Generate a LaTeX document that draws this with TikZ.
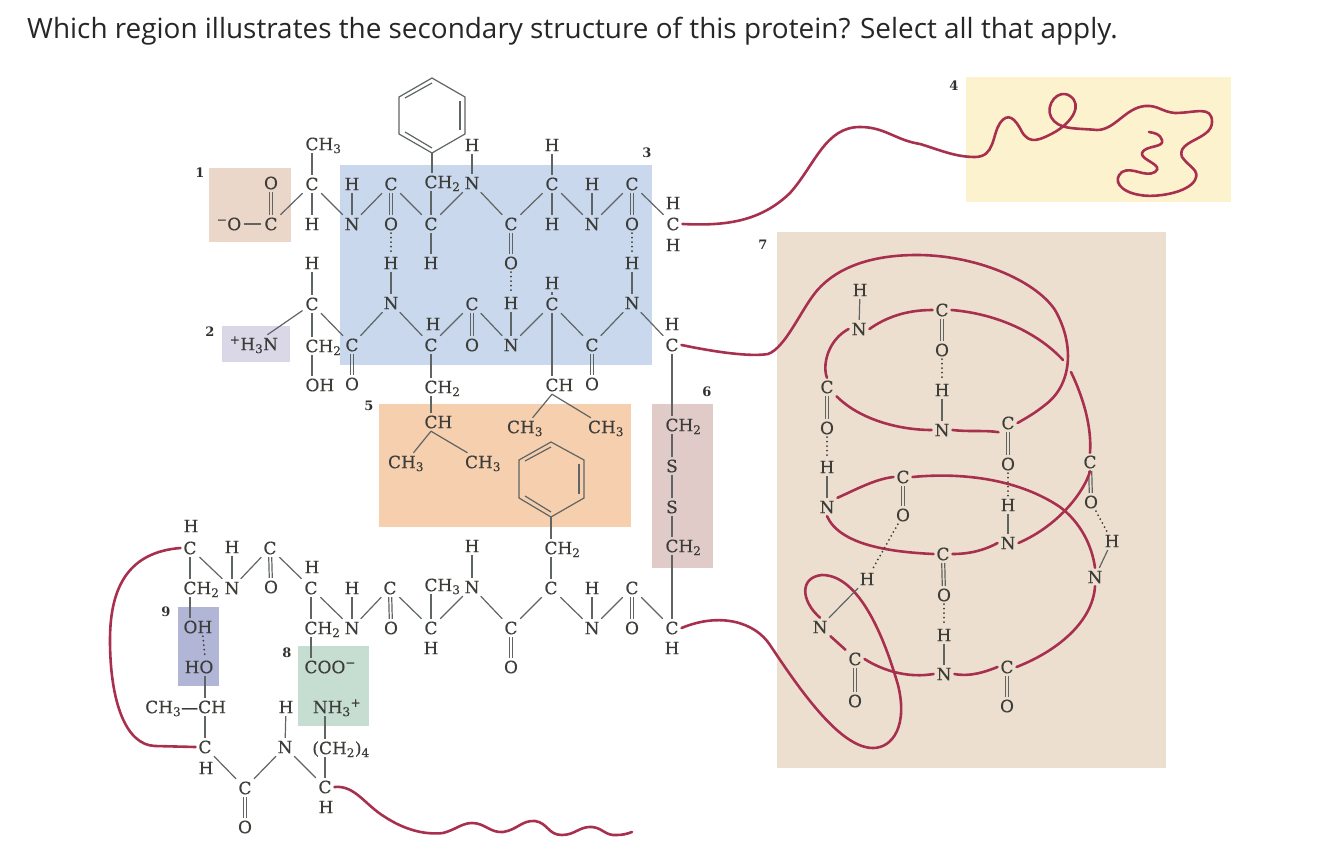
\documentclass[tikz,border=0pt]{standalone}
\usepackage{fontspec}
\setmainfont{DejaVu Serif}
\newfontfamily\atomfont[FakeBold=0.35]{DejaVu Serif}
\newfontfamily\titlefont{Open Sans}
\definecolor{ink}{HTML}{3C3C38}
\definecolor{bondc}{HTML}{5F6464}
\definecolor{chainc}{HTML}{A8304F}
\definecolor{pPeach}{HTML}{EBD6CA}
\definecolor{pLav}{HTML}{DAD7E7}
\definecolor{pBlue}{HTML}{C9D8EC}
\definecolor{pOrange}{HTML}{F6CFAE}
\definecolor{pMauve}{HTML}{E0CBC9}
\definecolor{pViolet}{HTML}{B1B6D7}
\definecolor{pGreen}{HTML}{C6DDD2}
\definecolor{pYellow}{HTML}{FCF3CE}
\definecolor{pBeige}{HTML}{EDDFD0}
\tikzset{
  atom/.style={inner sep=3pt,outer sep=0pt,text=ink,text height=12.4pt,text depth=0pt,font=\atomfont\fontsize{17}{17}\selectfont},
  latom/.style={atom,anchor=west},
  num/.style={inner sep=0pt,text=ink!80!black,font=\fontsize{13}{13}\selectfont\bfseries},
  bond/.style={draw=bondc,line width=1.2pt},
  hbond/.style={draw=ink,line width=2pt,line cap=round,dash pattern=on 0pt off 4.5pt},
  chain/.style={draw=chainc,line width=2.6pt,line cap=round,line join=round},
  panel/.style={draw=none}
}
\newcommand\At[3]{\node[atom] (#1) at (#2) {#3};}
\newcommand\LAt[4]{\node[latom] (#1) at (#2-9.5,#3) {#4};}
\newcommand\Bd[2]{\draw[bond] (#1) -- (#2);}
\newcommand\Dbl[2]{\draw[bond,transform canvas={xshift=-1.5pt}] (#1) -- (#2);\draw[bond,transform canvas={xshift=1.5pt}] (#1) -- (#2);}
\newcommand\Hbd[2]{\draw[hbond] (#1) -- (#2);}
\newcommand\Vdn[2]{\draw[bond] (#1) -- (#1 |- #2.north);}
\newcommand\Vup[2]{\draw[bond] (#1) -- (#1 |- #2.south);}
\newcommand\Vv[3]{\draw[bond] (#1 |- #2.south) -- (#1 |- #3.north);}
\newcommand\Num[3]{\node[num] (#1) at (#2) {#3};}
\newcommand\sbs[1]{\textsubscript{#1}}
\begin{document}
\begin{tikzpicture}[x=1pt,y=-1pt]
\useasboundingbox (0,0) rectangle (1328,866);
% title
\node[anchor=west,inner sep=0pt,text=black!85,font=\titlefont\fontsize{27.9}{30}\selectfont] (title) at (27,31) {Which region illustrates the secondary structure of this protein? Select all that apply.};
% panels
\fill[pPeach,panel] (209,168) rectangle (291,242);
\fill[pLav,panel] (222,326) rectangle (290,362);
\fill[pBlue,panel] (340,165) rectangle (652,365);
\fill[pOrange,panel] (379,404) rectangle (631,527);
\fill[pMauve,panel] (652,404) rectangle (713,568);
\fill[pViolet,panel] (178,607) rectangle (219,686);
\fill[pGreen,panel] (298,646) rectangle (369,726);
\fill[pYellow,panel] (966,77) rectangle (1231,202);
\fill[pBeige,panel] (777,232) rectangle (1166,768);
% numbers
\Num{n1}{200,173}{1}\Num{n2}{210,332}{2}\Num{n3}{647,153}{3}\Num{n4}{954,86}{4}
\Num{n5}{369,406}{5}\Num{n6}{707,392}{6}\Num{n7}{763,245}{7}\Num{n8}{287,653}{8}\Num{n9}{166,612}{9}
% ---- top strand
\At{Om}{229,224}{\textsuperscript{−}O}
\At{a1}{271,224}{C}\At{a1o}{271,183}{O}
\At{a2}{312,184}{C}\At{a2h}{312,224}{H}\LAt{a2m}{312}{144}{CH\sbs{3}}
\At{a3}{352,224}{N}\At{a3h}{352,184}{H}
\At{a4}{391,184}{C}\At{a4o}{391,224}{O}\At{a4x}{391,263}{H}
\At{a5}{431,224}{C}\At{a5h}{431,263}{H}\LAt{a5c}{431}{182}{CH\sbs{2}}
\At{a6}{472,183}{N}\At{a6h}{472,145}{H}
\At{a7}{511,224}{C}\At{a7o}{511,263}{O}\At{a7x}{511,303}{H}
\At{a8}{552,184}{C}\At{a8u}{552,145}{H}\At{a8d}{552,224}{H}
\At{a9}{592,224}{N}\At{a9h}{592,184}{H}
\At{a10}{632,184}{C}\At{a10o}{632,224}{O}\At{a10x}{632,263}{H}
\At{cT}{673,224}{C}\At{cTu}{673,203}{H}\At{cTd}{673,245}{H}
\Bd{Om}{a1}\Dbl{a1}{a1o}\Bd{a1}{a2}\Vup{a2}{a2m}\Bd{a2}{a2h}\Bd{a2}{a3}\Bd{a3}{a3h}\Bd{a3}{a4}
\Dbl{a4}{a4o}\Hbd{a4o}{a4x}\Bd{a4}{a5}\Bd{a5}{a5h}\Vup{a5}{a5c}\Bd{a5}{a6}\Bd{a6}{a6h}\Bd{a6}{a7}
\Dbl{a7}{a7o}\Hbd{a7o}{a7x}\Bd{a7}{a8}\Bd{a8}{a8u}\Bd{a8}{a8d}\Bd{a8}{a9}\Bd{a9}{a9h}\Bd{a9}{a10}
\Dbl{a10}{a10o}\Hbd{a10o}{a10x}\Bd{a10}{cT}
% top benzene
\coordinate (bA) at (432,78);\coordinate (bB) at (465,97);\coordinate (bC) at (465,134);
\coordinate (bD) at (432,153);\coordinate (bE) at (399,134);\coordinate (bF) at (399,97);
\draw[bond] (bA) -- (bB) -- (bC) -- (bD) -- (bE) -- (bF) -- cycle;
\draw[bond] (405,98) -- (432,83);\draw[bond] (460,101) -- (460,130);\draw[bond] (405,132) -- (432,148);
\draw[bond] (bD) -- (a5c.north -| bD);
% ---- second strand
\node[atom] (h3n) at (254,344) {\textsuperscript{+}H\sbs{3}N};
\At{b2}{312,304}{C}\At{b2h}{312,263}{H}\LAt{b2c}{312}{346}{CH\sbs{2}}\LAt{b2o}{312}{385}{OH}
\At{b3}{352,345}{C}\At{b3o}{352,384}{O}
\At{b4}{391,303}{N}
\At{b5}{431,345}{C}\At{b5h}{433,324}{H}\LAt{b5c}{431}{387}{CH\sbs{2}}\LAt{b5d}{431}{422}{CH}
\At{b6}{472,304}{C}\At{b6o}{472,345}{O}
\At{b7}{511,345}{N}
\At{b8}{552,304}{C}\At{b8h}{552,283}{H}\LAt{b8c}{552}{385}{CH}\At{b8y}{592,384}{O}
\At{b9}{592,345}{C}
\At{b10}{632,303}{N}
\At{cM}{672,345}{C}\At{cMh}{672,324}{H}
\Bd{h3n}{b2}\Bd{b2}{b2h}\Vdn{b2}{b2c}\Vv{b2}{b2c}{b2o}\Bd{b2}{b3}\Dbl{b3}{b3o}\Bd{b3}{b4}\Bd{b4}{b5}
\Vdn{b5}{b5c}\Vv{b5}{b5c}{b5d}\Bd{b5}{b6}\Dbl{b6}{b6o}\Bd{b6}{b7}\Bd{b7}{b8}\Bd{b8}{b8h}\Vdn{b8}{b8c}
\Bd{b8}{b9}\Dbl{b9}{b8y}\Bd{b9}{b10}\Bd{b10}{cM}
\Bd{b4}{a4x}\Bd{b7}{a7x}\Bd{b10}{a10x}
% ---- side groups
\At{m1}{406,462}{CH\sbs{3}}\At{m2}{483,462}{CH\sbs{3}}\At{m3}{525,427}{CH\sbs{3}}\At{m4}{606,427}{CH\sbs{3}}
\draw[bond] (b5d.south -| b5) -- (m1);\draw[bond] (b5d.south -| b5) -- (m2);
\draw[bond] (b8c.south -| b8) -- (m3);\draw[bond] (b8c.south -| b8) -- (m4);
\LAt{s1}{672}{425}{CH\sbs{2}}\At{s2}{672,466}{S}\At{s3}{672,507}{S}\LAt{s4}{672}{546}{CH\sbs{2}}
\Vdn{cM}{s1}\draw[bond] (s2 |- s1.south) -- (s2);\Bd{s2}{s3}\draw[bond] (s3) -- (s3 |- s4.north);
% ---- lower benzene
\coordinate (lA) at (551,442);\coordinate (lB) at (584,460);\coordinate (lC) at (584,498);
\coordinate (lD) at (551,517);\coordinate (lE) at (519,498);\coordinate (lF) at (519,460);
\draw[bond] (lA) -- (lB) -- (lC) -- (lD) -- (lE) -- (lF) -- cycle;
\draw[bond] (525,461) -- (551,447);\draw[bond] (579,464) -- (579,494);\draw[bond] (525,496) -- (551,512);
% ---- third strand
\At{c0h}{191,526}{H}\At{c0}{190,548}{C}\LAt{c0c}{190}{588}{CH\sbs{2}}\LAt{oh}{190}{627}{OH}
\At{c1}{232,588}{N}\At{c1h}{232,547}{H}
\At{c2}{270,548}{C}\At{c2o}{271,587}{O}
\At{c3}{311,588}{C}\At{c3h}{312,567}{H}\LAt{c3c}{311}{628}{CH\sbs{2}}\LAt{coo}{311}{667}{COO\textsuperscript{−}}
\At{c4}{352,628}{N}\At{c4h}{352,588}{H}
\At{c5}{390,588}{C}\At{c5o}{391,628}{O}
\At{c6}{431,628}{C}\At{c6h}{431,648}{H}\LAt{c6m}{431}{585}{CH\sbs{3}}
\At{c7}{472,587}{N}\At{c7h}{472,546}{H}
\At{c8}{511,628}{C}\At{c8o}{511,667}{O}
\At{c9}{551,588}{C}\LAt{c9c}{551}{548}{CH\sbs{2}}
\At{c10}{592,628}{N}\At{c10h}{592,588}{H}
\At{c11}{632,588}{C}\At{c11o}{632,628}{O}
\At{cB}{672,628}{C}\At{cBh}{672,648}{H}
\Vdn{c0}{c0c}\Vv{c0}{c0c}{oh}\Bd{c0}{c1}\Bd{c1}{c1h}\Bd{c1}{c2}\Dbl{c2}{c2o}\Bd{c2}{c3}
\Vdn{c3}{c3c}\Vv{c3}{c3c}{coo}\Bd{c3}{c4}\Bd{c4}{c4h}\Bd{c4}{c5}\Dbl{c5}{c5o}\Bd{c5}{c6}
\Vup{c6}{c6m}\Bd{c6}{c7}\Bd{c7}{c7h}\Bd{c7}{c8}\Dbl{c8}{c8o}\Bd{c8}{c9}\Vup{c9}{c9c}
\draw[bond] (c9c.north -| lD) -- (lD);
\Bd{c9}{c10}\Bd{c10}{c10h}\Bd{c10}{c11}\Dbl{c11}{c11o}\Bd{c11}{cB}
\draw[bond] (cB |- s4.south) -- (cB);
% ---- fourth strand
\At{ho}{199,667}{HO}
\node[atom,anchor=east] (chch) at (229,707) {CH\sbs{3}—CH};
\At{d0}{205,747}{C}\At{d0h}{206,768}{H}
\At{d1}{245,788}{C}\At{d1o}{245,827}{O}
\At{d2}{285,747}{N}\At{d2h}{286,707}{H}
\At{d3}{325,787}{C}\At{d3h}{326,807}{H}
\At{ch4}{341,748}{(CH\sbs{2})\sbs{4}}
\At{nh3}{337,707}{NH\sbs{3}\textsuperscript{+}}
\draw[hbond] ([xshift=5pt]oh.south) -- ([xshift=6pt]ho.north);
\draw[bond] (d0 |- ho.south) -- (d0 |- chch.north);
\draw[bond] (d0 |- chch.south) -- (d0);
\Bd{d0}{d1}\Dbl{d1}{d1o}\Bd{d1}{d2}\Bd{d2}{d2h}\Bd{d2}{d3}
\draw[bond] (d3) -- (d3 |- ch4.south);\draw[bond] (d3 |- ch4.north) -- (d3 |- nh3.south);
% ---- helix atoms
\At{h1h}{860,290}{H}\At{h1}{859,329}{N}
\At{h2}{942,310}{C}\At{h2o}{942,350}{O}\At{h2x}{942,390}{H}\At{h2n}{942,430}{N}
\At{h3}{827,387}{C}\At{h3o}{827,428}{O}\At{h3x}{827,467}{H}\At{h3n}{827,507}{N}
\At{h4}{1008,423}{C}\At{h4o}{1008,464}{O}\At{h4x}{1008,505}{H}\At{h4n}{1008,543}{N}
\At{h5}{903,477}{C}\At{h5o}{903,515}{O}
\At{h6}{1090,462}{C}\At{h6o}{1091,502}{O}\At{h6x}{1112,541}{H}\At{h6n}{1095,577}{N}
\At{h7}{943,554}{C}\At{h7o}{944,595}{O}\At{h7x}{944,635}{H}\At{h7n}{944,674}{N}
\At{h8}{1007,667}{C}\At{h8o}{1007,706}{O}
\At{h9x}{867,579}{H}\At{h9n}{820,627}{N}
\At{h10}{855,659}{C}\At{h10o}{855,701}{O}
\Bd{h1h}{h1}\Dbl{h2}{h2o}\Hbd{h2o}{h2x}\Bd{h2x}{h2n}
\Dbl{h3}{h3o}\Hbd{h3o}{h3x}\Bd{h3x}{h3n}
\Dbl{h4}{h4o}\Hbd{h4o}{h4x}\Bd{h4x}{h4n}
\Dbl{h5}{h5o}\Dbl{h6}{h6o}\Hbd{h6o}{h6x}\Bd{h6x}{h6n}
\Dbl{h7}{h7o}\Hbd{h7o}{h7x}\Bd{h7x}{h7n}\Dbl{h8}{h8o}\Dbl{h10}{h10o}
% ---- red chains
\coordinate (endA) at (1149,132);\coordinate (endB) at (632,832);
\draw[chain] (cT.east) .. controls (725,226) and (760,222) .. (790,193) .. controls (815,165) and (825,127) .. (860,127) .. controls (885,127) and (895,140) .. (920,144) .. controls (940,150) and (955,157) .. (975,157) .. controls (995,157) and (992,135) .. (1000,123) .. controls (1008,112) and (1015,118) .. (1022,132) .. controls (1030,145) and (1040,140) .. (1055,132) .. controls (1072,122) and (1083,105) .. (1070,96) .. controls (1058,88) and (1045,105) .. (1051,117) .. controls (1058,130) and (1075,128) .. (1097,130) .. controls (1115,130) and (1125,108) .. (1145,106) .. controls (1158,105) and (1162,112) .. (1175,113) .. controls (1195,113) and (1212,105) .. (1212,122) .. controls (1212,140) and (1176,140) .. (1182,157) .. controls (1190,168) and (1200,170) .. (1195,180) .. controls (1188,193) and (1155,198) .. (1140,195) .. controls (1120,192) and (1112,180) .. (1122,172) .. controls (1132,166) and (1145,178) .. (1155,172) .. controls (1165,165) and (1140,160) .. (1142,153) .. controls (1145,145) and (1165,148) .. (1162,140) .. controls (1160,134) and (1155,133) .. (endA);
\draw[chain] (cM.east) .. controls (715,352) and (750,357) .. (768,354) .. controls (785,348) and (800,312) .. (815,293) .. controls (835,268) and (870,255) .. (917,255) .. controls (975,255) and (1035,280) .. (1055,310) .. controls (1075,345) and (1072,385) .. (1045,405) .. controls (1035,413) and (1028,417) .. (h4.east);
\draw[chain] (h4.south west) .. controls (985,430) and (970,432) .. (h2n.east);
\draw[chain] (h2n.west) .. controls (900,430) and (860,420) .. (h3.south east);
\draw[chain] (h3.north) .. controls (822,365) and (828,340) .. (h1.west);
\draw[chain] (h1.east) .. controls (885,318) and (905,310) .. (h2.west);
\draw[chain] (h2.east) .. controls (1000,314) and (1040,335) .. (1063,360);
\draw[chain] (1071,372) .. controls (1082,395) and (1092,425) .. (h6.north);
\draw[chain] (h6.south) .. controls (1085,490) and (1060,525) .. (h4n.east);
\draw[chain] (h4n.west) .. controls (985,550) and (970,554) .. (h7.east);
\draw[chain] (h7.west) .. controls (890,552) and (840,545) .. (h3n.south);
\draw[chain] (h3n.north east) .. controls (855,490) and (875,479) .. (h5.west);
\draw[chain] (h5.east) .. controls (965,472) and (1020,480) .. (1060,507) .. controls (1080,522) and (1092,545) .. (h6n.north);
\draw[chain] (h6n.south) .. controls (1093,620) and (1060,650) .. (h8.east);
\draw[chain] (h8.west) .. controls (985,672) and (970,677) .. (h7n.east);
\draw[chain] (h7n.west) .. controls (910,678) and (885,672) .. (h10.east);
\draw[chain] (h10.north west) -- (h9n.south east);
\draw[chain] (h9n.north) .. controls (800,600) and (800,577) .. (822,575) .. controls (860,575) and (885,640) .. (898,685) .. controls (908,725) and (893,748) .. (873,748) .. controls (840,748) and (800,690) .. (770,645) .. controls (755,622) and (720,612) .. (cB.east);
\draw[chain] (c0.west) .. controls (130,552) and (110,585) .. (110,640) .. controls (110,700) and (125,745) .. (155,746) -- (d0.west);
\draw[chain] (d3.east) .. controls (355,785) and (365,805) .. (385,817) .. controls (405,830) and (425,835) .. (443,833) .. controls (455,830) and (462,823) .. (472,823) .. controls (485,823) and (490,833) .. (503,832) .. controls (517,830) and (522,820) .. (535,821) .. controls (548,823) and (548,835) .. (562,835) .. controls (575,835) and (580,826) .. (592,827) .. controls (603,828) and (605,836) .. (617,835) .. controls (622,835) and (627,834) .. (endB);
% dotted and thin lines that lie over the chain
\Hbd{h5o}{h9x}\Bd{h9x}{h9n}
\end{tikzpicture}
\end{document}
